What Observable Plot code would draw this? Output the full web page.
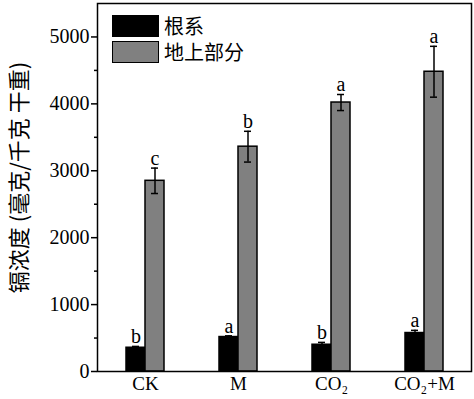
<!DOCTYPE html>
<html>
<head>
<meta charset="utf-8">
<script src="https://cdn.jsdelivr.net/npm/d3@7"></script>
<script src="https://cdn.jsdelivr.net/npm/@observablehq/plot@0.6"></script>
<style>
  body { margin: 0; background: #fff; }
  #wrap { position: relative; width: 474px; height: 399px; }
  .legend { position: absolute; left: 112px; top: 15px; font-family: "Noto Sans CJK SC", sans-serif; font-size: 20px; line-height: 1; color: #000; }
  .legend .row { display: flex; align-items: center; height: 22px; margin-bottom: 4px; }
  .legend .sw { width: 45px; height: 20px; border: 1px solid #000; margin-right: 5px; }
</style>
</head>
<body>
<div id="wrap"></div>
<script>
const categories = ["CK", "M", "CO₂", "CO₂+M"];
const seriesNames = ["根系", "地上部分"];
const seriesColors = ["#000000", "#808080"];
const rootValues = [355, 515, 400, 575];
const rootErrors = [20, 18, 35, 40];
const rootLetters = ["b", "a", "b", "a"];
const shootValues = [2850, 3360, 4020, 4480];
const shootErrors = [190, 230, 120, 380];
const shootLetters = ["c", "b", "a", "a"];
const yTicks = [0, 1000, 2000, 3000, 4000, 5000];
const yMinorTicks = [500, 1500, 2500, 3500, 4500];
const yMax = 5500;
const yLabel = "镉浓度 (毫克/千克 干重)";

const roots = categories.map((c, i) => ({cat: c, value: rootValues[i], err: rootErrors[i], letter: rootLetters[i]}));
const shoots = categories.map((c, i) => ({cat: c, value: shootValues[i], err: shootErrors[i], letter: shootLetters[i]}));

const serif = "Liberation Serif, Times New Roman, serif";
const cjk = "Noto Sans CJK SC, sans-serif";
const half = 19;   // half of a group's band, in pixels
const capInset = 6;

function seriesMarks(rows, fill, side) {
  // side: -1 for left bar, +1 for right bar
  const barInset = side < 0 ? {insetRight: half} : {insetLeft: half};
  const capIn = side < 0 ? {insetLeft: capInset, insetRight: half + capInset} : {insetLeft: half + capInset, insetRight: capInset};
  const dx = side * half / 2;
  return [
    Plot.barY(rows, {x: "cat", y: "value", fill, stroke: "#000", strokeWidth: 1.5, ...barInset}),
    Plot.ruleX(rows, {x: "cat", y1: d => d.value - d.err, y2: d => d.value + d.err, dx, stroke: "#000", strokeWidth: 1.5}),
    Plot.tickY(rows, {x: "cat", y: d => d.value + d.err, stroke: "#000", strokeWidth: 1.5, ...capIn}),
    Plot.tickY(rows, {x: "cat", y: d => d.value - d.err, stroke: "#000", strokeWidth: 1.5, ...capIn}),
    Plot.text(rows, {x: "cat", y: d => d.value + d.err, text: "letter", dx, lineAnchor: "bottom", dy: -3, fontSize: 20, fontFamily: serif})
  ];
}

const chart = Plot.plot({
  width: 474,
  height: 399,
  marginLeft: 97,
  marginRight: 3,
  marginTop: 3,
  marginBottom: 28,
  style: {fontFamily: serif, fontSize: "19px", background: "#fff", color: "#000"},
  x: {domain: categories, paddingInner: 0.594, paddingOuter: 0.297, label: null, tickSize: 0, tickPadding: 5},
  y: {domain: [0, yMax], label: null},
  marks: [
    ...seriesMarks(roots, seriesColors[0], -1),
    ...seriesMarks(shoots, seriesColors[1], 1),
    Plot.frame({stroke: "#000", strokeWidth: 1.5}),
    Plot.axisX({tickSize: 0, tickPadding: 5, label: null, fontSize: 19}),
    Plot.axisY({ticks: yTicks, tickSize: 6, tickPadding: 2, tickFormat: d => String(d), label: null, strokeWidth: 1.5, fontSize: 20}),
    Plot.axisY({ticks: yMinorTicks, tickSize: 3, tickFormat: () => "", label: null, strokeWidth: 1.5}),
    Plot.text([yLabel], {frameAnchor: "left", textAnchor: "middle", text: d => d, rotate: -90, dx: -78, dy: -10, fontSize: 22, fontFamily: cjk})
  ]
});

const wrap = document.getElementById("wrap");
wrap.appendChild(chart);

const legend = document.createElement("div");
legend.className = "legend";
seriesNames.forEach((s, i) => {
  const row = document.createElement("div");
  row.className = "row";
  const sw = document.createElement("div");
  sw.className = "sw";
  sw.style.background = seriesColors[i];
  const t = document.createElement("span");
  t.textContent = s;
  row.appendChild(sw);
  row.appendChild(t);
  legend.appendChild(row);
});
wrap.appendChild(legend);
</script>
</body>
</html>
